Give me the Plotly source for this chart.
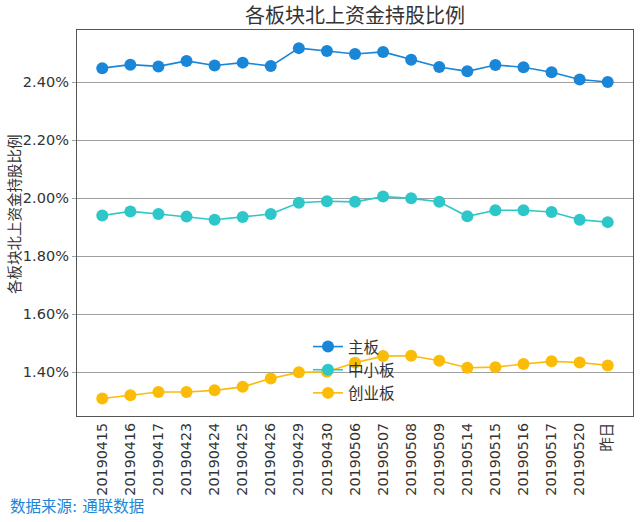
import plotly.graph_objects as go

dates = ["20190415", "20190416", "20190417", "20190423", "20190424", "20190425",
         "20190426", "20190429", "20190430", "20190506", "20190507", "20190508",
         "20190509", "20190514", "20190515", "20190516", "20190517", "20190520", "昨日"]

main_board = [2.449, 2.461, 2.455, 2.474, 2.458, 2.468, 2.456, 2.518, 2.508, 2.498,
              2.505, 2.478, 2.453, 2.438, 2.460, 2.452, 2.435, 2.410, 2.401]
sme_board = [1.941, 1.955, 1.946, 1.937, 1.926, 1.936, 1.946, 1.985, 1.990, 1.988,
             2.006, 2.000, 1.988, 1.938, 1.959, 1.959, 1.953, 1.926, 1.918]
chinext = [1.310, 1.321, 1.332, 1.332, 1.338, 1.350, 1.379, 1.400, 1.402, 1.433,
           1.456, 1.457, 1.440, 1.416, 1.418, 1.429, 1.438, 1.434, 1.424]

names = ["主板", "中小板", "创业板"]
colors = ["#1a86d8", "#2ec7c9", "#fbbc08"]
ytick_vals = [1.4, 1.6, 1.8, 2.0, 2.2, 2.4]

FONT = "DejaVu Sans, Noto Sans CJK SC, sans-serif"
PW = 633 - 77
PH = 416 - 30

fig = go.Figure()
for name, vals, c in zip(names, [main_board, sme_board, chinext], colors):
    fig.add_trace(go.Scatter(
        x=list(range(len(dates))), y=vals, name=name, mode="lines+markers",
        line=dict(color=c, width=1.6),
        marker=dict(color=c, size=12, line=dict(width=0)),
    ))

fig.update_layout(
    width=640, height=522,
    margin=dict(l=77, r=7, t=30, b=106),
    paper_bgcolor="white", plot_bgcolor="white",
    font=dict(family=FONT, color="#333333", size=14),
    title=dict(text="各板块北上资金持股比例", x=(77 + 633) / 2 / 640, xanchor="center",
               y=1 - 16 / 522, yanchor="middle",
               font=dict(size=20, color="#333333")),
    showlegend=True,
    legend=dict(x=(308 - 77) / PW, xanchor="left", y=1 - (330 - 30) / PH, yanchor="top",
                bgcolor="rgba(0,0,0,0)", font=dict(size=15.5, color="#333333"),
                itemwidth=30, tracegroupgap=0),
    xaxis=dict(
        range=[-0.9, len(dates) - 1 + 0.9],
        tickmode="array", tickvals=list(range(len(dates))), ticktext=dates,
        tickangle=-90, showgrid=False, zeroline=False,
        showline=True, linecolor="#555555", linewidth=1.3, mirror=True,
        ticks="", tickfont=dict(size=14.3, color="#333333"),
    ),
    yaxis=dict(
        range=[1.2495, 2.5805],
        tickmode="array", tickvals=ytick_vals,
        ticktext=[f"{v:.2f}%" for v in ytick_vals],
        showgrid=True, gridcolor="#a0a0a0", gridwidth=1, zeroline=False,
        showline=True, linecolor="#555555", linewidth=1.3, mirror=True,
        ticks="outside", ticklen=4, tickcolor="#a0a0a0",
        tickfont=dict(size=14.5, color="#333333"),
    ),
    annotations=[
        dict(text="数据来源: 通联数据", xref="paper", yref="paper",
             x=-(77 - 8) / PW, xanchor="left", y=-(507 - 416) / PH, yanchor="middle",
             showarrow=False, font=dict(size=15.5, color="#1a86d8")),
        dict(text="各板块北上资金持股比例", xref="paper", yref="paper",
             x=-(77 - 15) / PW, xanchor="center", y=1 - (214 - 30) / PH, yanchor="middle",
             textangle=-90, showarrow=False, font=dict(size=14.5, color="#333333")),
    ],
)

fig.write_html("out.html")
